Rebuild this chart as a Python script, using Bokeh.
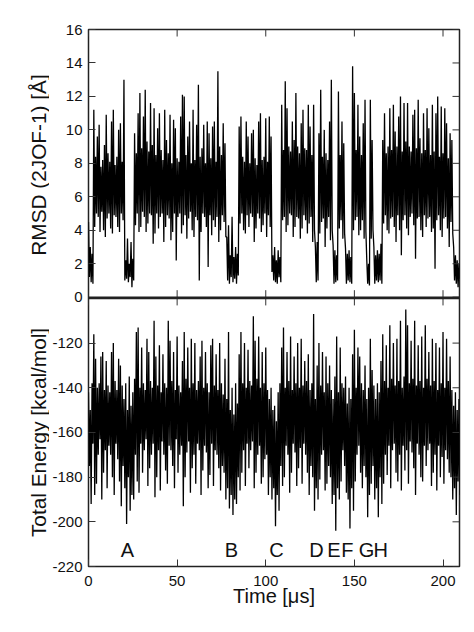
import math
from bokeh.plotting import figure
from bokeh.models import (FixedTicker, Range1d, Span, CustomJSTickFormatter)
from bokeh.layouts import row
from bokeh.core.properties import value
from bokeh.embed import file_html
from bokeh.resources import INLINE

# ---------------- data (1 us bins: max / min per bin) ----------------
TIME_US = list(range(210))

RMSD_HI = [
    4.5, 3.0, 2.6, 11.2, 8.4, 9.6, 10.3, 7.8, 8.2, 9.1,
    10.9, 8.6, 8.1, 10.5, 11.2, 7.9, 8.4, 10.0, 10.4, 8.1,
    13.0, 2.2, 3.5, 2.0, 3.3, 2.3, 9.8, 8.6, 11.0, 12.2,
    8.9, 10.8, 12.4, 9.3, 8.7, 11.6, 9.1, 11.3, 8.5, 10.1,
    11.0, 8.8, 8.2, 11.2, 9.4, 8.6, 10.9, 8.0, 10.6, 10.1,
    8.3, 8.1, 10.8, 12.1, 12.0, 8.5, 9.6, 10.5, 8.0, 11.2,
    8.2, 10.3, 12.7, 8.4, 8.9, 10.3, 8.0, 10.5, 9.8, 8.3,
    10.2, 10.5, 8.1, 13.5, 9.0, 8.5, 10.4, 9.2, 3.6, 4.3,
    2.5, 4.8, 2.4, 3.0, 2.6, 10.2, 10.8, 8.4, 8.1, 10.5,
    9.6, 8.0, 9.8, 10.0, 8.3, 7.9, 10.5, 11.0, 8.2, 8.4,
    10.7, 8.1, 10.8, 9.6, 2.5, 3.0, 2.2, 2.8, 2.4, 11.5,
    8.8, 12.9, 11.3, 9.0, 8.7, 10.5, 9.4, 12.2, 9.0, 8.6,
    10.4, 11.2, 8.9, 8.8, 11.5, 10.2, 8.5, 11.5, 3.0, 3.3,
    9.8, 12.4, 8.4, 10.0, 8.6, 8.2, 10.5, 13.0, 3.1, 2.8,
    2.5, 12.3, 8.5, 10.5, 9.2, 2.9, 2.6, 2.8, 2.4, 13.8,
    12.2, 8.8, 11.5, 9.6, 8.5, 10.4, 11.8, 2.2, 2.0, 11.8,
    9.4, 3.0, 2.5, 2.8, 2.6, 3.2, 9.4, 11.0, 8.6, 9.0,
    11.3, 8.8, 11.5, 9.9, 9.0, 10.8, 12.0, 8.7, 11.6, 9.3,
    11.6, 9.0, 8.7, 10.9, 11.2, 8.9, 11.8, 9.5, 8.6, 11.0,
    8.8, 11.3, 10.1, 8.5, 11.5, 8.7, 11.0, 12.0, 8.4, 11.4,
    8.6, 11.3, 10.4, 8.3, 9.8, 9.4, 3.0, 2.5, 2.2, 2.0,
]

RMSD_LO = [
    1.2, 0.9, 0.8, 4.2, 5.0, 4.8, 3.9, 5.1, 4.0, 3.6,
    4.7, 5.0, 4.1, 3.8, 4.9, 4.8, 4.2, 3.9, 5.0, 4.6,
    1.0, 1.1, 0.9, 1.2, 0.6, 1.0, 4.3, 5.0, 3.9, 4.2,
    5.1, 4.8, 3.9, 4.4, 5.0, 4.9, 3.2, 3.8, 5.0, 4.1,
    4.8, 5.0, 3.3, 4.2, 4.9, 4.7, 3.4, 3.9, 5.0, 2.2,
    4.8, 5.0, 3.8, 4.3, 4.9, 3.5, 4.7, 5.1, 4.0, 3.6,
    4.8, 4.6, 1.0, 3.9, 5.0, 4.8, 4.2, 1.8, 4.9, 3.7,
    4.6, 4.2, 4.8, 3.3, 4.0, 4.9, 4.5, 3.6, 1.0, 0.8,
    1.2, 0.9, 1.1, 0.8, 1.3, 4.4, 5.0, 4.0, 3.8, 4.9,
    4.2, 5.0, 4.8, 3.3, 4.1, 5.0, 4.7, 3.9, 4.3, 5.0,
    3.6, 4.9, 4.2, 1.5, 1.0, 0.9, 0.8, 1.2, 0.9, 4.6,
    4.8, 3.9, 4.3, 5.0, 4.9, 3.6, 4.2, 4.8, 4.7, 3.5,
    4.1, 4.9, 4.6, 3.8, 4.4, 4.8, 3.3, 4.0, 0.9, 1.0,
    3.8, 4.5, 4.7, 3.0, 4.1, 4.8, 3.4, 4.0, 0.8, 0.9,
    1.0, 4.1, 4.6, 3.5, 3.8, 0.8, 1.0, 0.9, 0.8, 4.0,
    4.6, 4.8, 3.7, 4.0, 4.6, 3.5, 3.9, 0.8, 0.7, 3.5,
    4.0, 0.8, 1.0, 0.9, 1.0, 0.8, 4.4, 4.9, 4.0, 3.8,
    4.7, 4.8, 4.2, 3.3, 4.9, 4.0, 2.5, 4.6, 4.9, 4.1,
    3.7, 4.8, 5.0, 4.3, 2.3, 4.7, 4.8, 4.0, 3.6, 4.9,
    4.2, 4.7, 4.8, 3.9, 4.1, 1.7, 4.6, 4.9, 4.0, 3.6,
    4.7, 4.8, 4.1, 3.0, 4.5, 3.8, 1.0, 0.8, 0.6, 1.1,
]

ENERGY_HI = [
    -142, -150, -138, -116, -127, -140, -138, -126, -124, -141,
    -128, -139, -142, -124, -120, -137, -141, -127, -130, -139,
    -145, -138, -150, -135, -148, -142, -136, -115, -113, -140,
    -122, -138, -141, -118, -124, -137, -140, -110, -126, -139,
    -121, -142, -125, -138, -140, -110, -119, -137, -124, -141,
    -117, -139, -142, -128, -115, -136, -122, -140, -118, -138,
    -120, -141, -137, -126, -119, -140, -124, -138, -142, -121,
    -118, -139, -125, -141, -120, -138, -143, -127, -145, -115,
    -150, -140, -152, -138, -147, -125, -115, -138, -120, -140,
    -123, -137, -139, -108, -119, -136, -117, -140, -124, -138,
    -122, -141, -145, -140, -150, -148, -155, -142, -138, -122,
    -113, -140, -124, -137, -117, -141, -126, -138, -120, -140,
    -118, -139, -128, -137, -125, -141, -138, -107, -145, -130,
    -120, -139, -124, -142, -126, -138, -130, -141, -145, -135,
    -117, -142, -122, -138, -140, -135, -147, -140, -145, -125,
    -114, -140, -122, -126, -138, -141, -130, -145, -140, -118,
    -132, -139, -145, -138, -142, -128, -116, -137, -121, -140,
    -112, -136, -120, -139, -118, -137, -110, -140, -135, -105,
    -112, -138, -119, -136, -110, -139, -121, -137, -117, -140,
    -112, -136, -124, -139, -118, -137, -120, -141, -122, -138,
    -115, -140, -118, -137, -126, -141, -148, -142, -150, -145,
]

ENERGY_LO = [
    -175, -192, -165, -188, -183, -170, -163, -190, -178, -168,
    -185, -166, -170, -180, -188, -165, -172, -182, -193, -175,
    -185, -201, -180, -195, -188, -190, -170, -182, -187, -165,
    -178, -168, -163, -184, -176, -170, -165, -189, -180, -168,
    -186, -164, -170, -177, -183, -166, -168, -175, -185, -163,
    -178, -170, -166, -193, -180, -169, -164, -187, -176, -170,
    -183, -165, -168, -188, -177, -166, -169, -185, -179, -165,
    -184, -168, -170, -176, -186, -175, -178, -190, -185, -194,
    -188, -197, -190, -192, -180, -186, -178, -168, -184, -165,
    -176, -168, -164, -185, -178, -170, -166, -183, -180, -172,
    -170, -188, -180, -190, -185, -202, -188, -195, -175, -184,
    -180, -166, -170, -187, -178, -165, -169, -184, -176, -167,
    -183, -165, -170, -178, -188, -175, -180, -195, -185, -190,
    -181, -170, -168, -186, -183, -175, -180, -192, -188, -204,
    -185, -190, -182, -168, -175, -187, -190, -203, -185, -195,
    -182, -170, -166, -178, -185, -175, -180, -198, -188, -183,
    -175, -190, -185, -198, -180, -192, -183, -170, -179, -166,
    -185, -168, -165, -178, -182, -170, -186, -166, -177, -168,
    -183, -164, -169, -176, -188, -165, -170, -180, -182, -166,
    -175, -168, -165, -184, -178, -170, -186, -166, -180, -171,
    -183, -168, -172, -178, -180, -190, -185, -197, -182, -188,
]

EVENT_LABELS = ["A", "B", "C", "D", "E", "F", "G", "H"]
EVENT_TIMES = [21.9, 80.6, 106.0, 128.6, 138.4, 146.0, 156.9, 164.8]
EVENT_LABEL_Y = -212.8

X_TICKS = [0, 50, 100, 150, 200]
RMSD_TICKS = [0, 2, 4, 6, 8, 10, 12, 14, 16]
ENERGY_TICKS = [-220, -200, -180, -160, -140, -120]

RMSD_LABEL = "RMSD (2JOF-1) [Å]"
ENERGY_LABEL = "Total Energy [kcal/mol]"
TIME_LABEL = "Time [μs]"
RMSD_LABEL_Y = 7.9
ENERGY_LABEL_Y = -160.0

FONT = "Liberation Sans"

# ---------------- layout constants ----------------
TITLE_W = 49                   # strip on the left holding the two y titles
W, H = 417, 624
BL, BR, BT, BB = 39, 7, 29, 58
FRAME_W = W - BL - BR          # 371 px
FRAME_H = H - BT - BB          # 537 px
X0, X1 = 0.0, 209.3
RMSD_TOP = 16.0
RMSD_PX = 16.73                # px per Angstrom (top panel)
ENERGY_BOTTOM = -220.0
ENERGY_TOP_PANEL = -100.0
ENERGY_PX = 2.234              # px per kcal/mol (bottom panel)
R0 = RMSD_TOP - FRAME_H / RMSD_PX
R1 = RMSD_TOP
E0 = ENERGY_BOTTOM
E1 = ENERGY_BOTTOM + FRAME_H / ENERGY_PX
PX_PER_US = FRAME_W / (X1 - X0)
TICK_PX = 7


def zigzag(t, hi, lo):
    xs, ys = [], []
    for ti, h, l in zip(t, hi, lo):
        xs += [ti, ti + 0.5]
        ys += [h, l]
    return xs, ys


def e_to_r(e):
    return R0 + (e - E0) * (R1 - R0) / (E1 - E0)


rmsd_range = Range1d(R0, R1)
energy_range = Range1d(E0, E1)

p = figure(width=W, height=H, x_range=Range1d(X0, X1), y_range=rmsd_range,
           output_backend="svg", toolbar_location=None,
           min_border_left=BL, min_border_right=BR, min_border_top=BT, min_border_bottom=BB)
p.extra_y_ranges = {"energy": energy_range}
p.grid.visible = False
p.outline_line_color = "#222222"
p.outline_line_width = 1.5
p.background_fill_color = "white"
p.border_fill_color = "white"

# series
xs, ys = zigzag(TIME_US, RMSD_HI, RMSD_LO)
p.line(xs, ys, line_color="#000000", line_width=1.3)
xs, ys = zigzag(TIME_US, ENERGY_HI, ENERGY_LO)
p.line(xs, ys, line_color="#000000", line_width=1.3, y_range_name="energy")

# event letters
p.text(x=EVENT_TIMES, y=[EVENT_LABEL_Y] * len(EVENT_TIMES), text=EVENT_LABELS,
       y_range_name="energy", text_font=value(FONT), text_font_size="20px",
       text_color="#111111", text_align="center", text_baseline="middle")

# panel boundary
p.add_layout(Span(location=0, dimension="width", line_color="#222222", line_width=1.5))
p.add_layout(Span(location=ENERGY_TOP_PANEL, dimension="width", line_color="#222222",
                  line_width=1.5, y_range_name="energy"))

# left axis: both panels' ticks, labelled through a formatter
ya = p.yaxis[0]
ya.ticker = FixedTicker(ticks=RMSD_TICKS + [e_to_r(e) for e in ENERGY_TICKS])
ya.formatter = CustomJSTickFormatter(
    args=dict(r0=R0, r1=R1, e0=E0, e1=E1),
    code="if (tick > -0.5) { return tick.toFixed(0); }"
         " const e = e0 + (tick - r0) * (e1 - e0) / (r1 - r0);"
         " return Math.round(e).toFixed(0);")
ya.major_label_standoff = 6

xa = p.xaxis[0]
xa.ticker = FixedTicker(ticks=X_TICKS)
xa.major_label_standoff = 9
xa.axis_label = TIME_LABEL
xa.axis_label_standoff = -4
xa.axis_label_text_font = FONT
xa.axis_label_text_font_size = "20px"
xa.axis_label_text_font_style = "normal"
xa.axis_label_text_color = "#111111"

for a in (xa, ya):
    a.axis_line_color = None
    a.major_tick_in = TICK_PX
    a.major_tick_out = 0
    a.minor_tick_line_color = None
    a.major_tick_line_color = "#333333"
    a.major_label_text_font = FONT
    a.major_label_text_font_size = "15px"
    a.major_label_text_color = "#111111"

# mirrored ticks (right side, top, and both sides of the panel boundary)
dx = TICK_PX / PX_PER_US
p.segment(x0=[X1] * len(RMSD_TICKS), y0=RMSD_TICKS, x1=[X1 - dx] * len(RMSD_TICKS),
          y1=RMSD_TICKS, line_color="#333333", line_width=1)
p.segment(x0=[X1] * len(ENERGY_TICKS), y0=ENERGY_TICKS, x1=[X1 - dx] * len(ENERGY_TICKS),
          y1=ENERGY_TICKS, line_color="#333333", line_width=1, y_range_name="energy")
dr = TICK_PX / RMSD_PX
de = TICK_PX / ENERGY_PX
n = len(X_TICKS)
p.segment(x0=X_TICKS, y0=[RMSD_TOP] * n, x1=X_TICKS, y1=[RMSD_TOP - dr] * n,
          line_color="#333333", line_width=1)
p.segment(x0=X_TICKS, y0=[0] * n, x1=X_TICKS, y1=[dr] * n,
          line_color="#333333", line_width=1)
p.segment(x0=X_TICKS, y0=[ENERGY_TOP_PANEL] * n, x1=X_TICKS, y1=[ENERGY_TOP_PANEL - de] * n,
          line_color="#333333", line_width=1, y_range_name="energy")

# ---------------- left strip with the two y-axis titles ----------------
# shares the vertical ranges of the main plot (frames are aligned in the row)
t = figure(width=TITLE_W, height=H, x_range=Range1d(0, TITLE_W), y_range=rmsd_range,
           output_backend="svg", toolbar_location=None,
           min_border_left=0, min_border_right=0, min_border_top=BT, min_border_bottom=BB)
t.extra_y_ranges = {"energy": energy_range}
t.axis.visible = False
t.grid.visible = False
t.outline_line_color = None
t.background_fill_color = "white"
t.border_fill_color = "white"
t.text(x=[38.3], y=[RMSD_LABEL_Y], text=[RMSD_LABEL],
       angle=math.pi / 2, text_font=value(FONT), text_font_size="20.8px",
       text_color="#111111", text_align="center", text_baseline="middle")
t.text(x=[38.3], y=[ENERGY_LABEL_Y], text=[ENERGY_LABEL], y_range_name="energy",
       angle=math.pi / 2, text_font=value(FONT), text_font_size="20.8px",
       text_color="#111111", text_align="center", text_baseline="middle")

layout = row(t, p, spacing=0)
open("out.html", "w").write(file_html(layout, INLINE))
